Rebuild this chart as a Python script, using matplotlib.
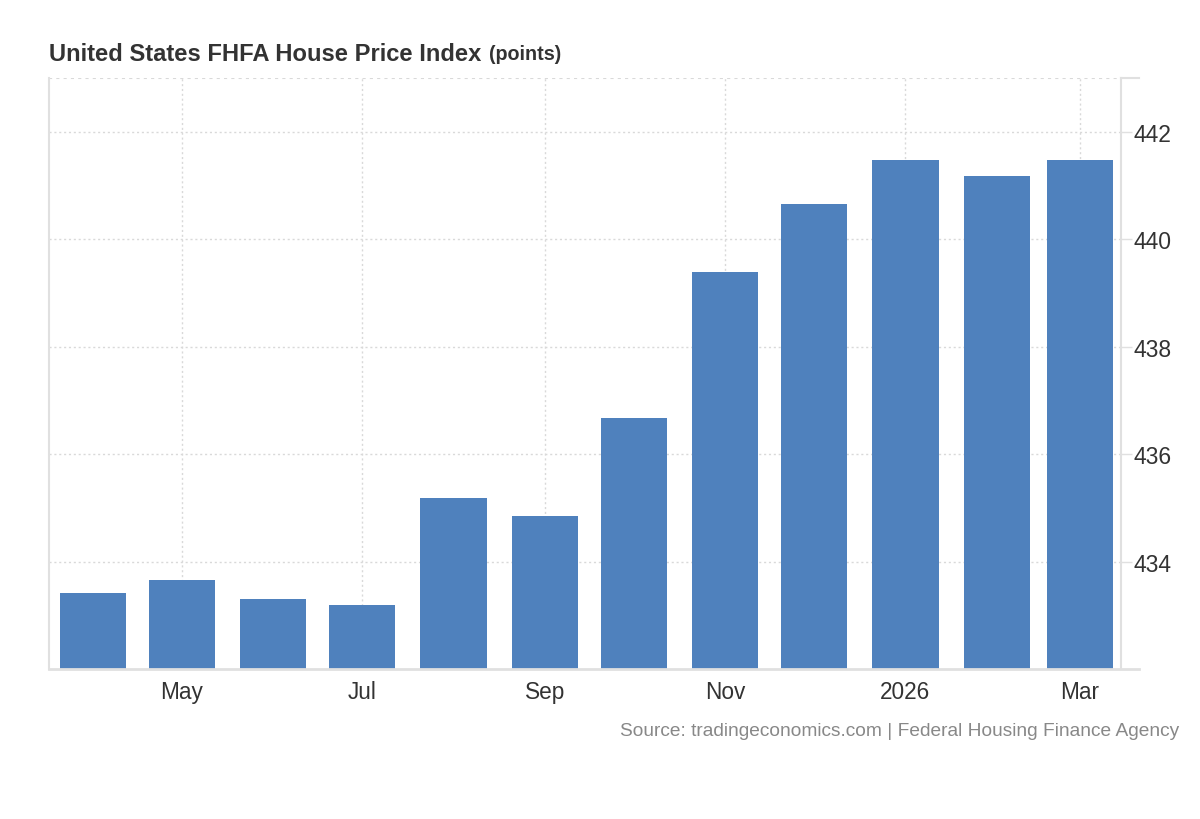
import matplotlib
matplotlib.use("Agg")
import matplotlib.pyplot as plt
import pandas as pd

plt.rcParams["font.family"] = ["Liberation Sans", "DejaVu Sans"]

#monthly FHFA house price index values
months = pd.date_range("2025-04-01", "2026-03-01", freq="MS")
values = [433.42, 433.65, 433.31, 433.20, 435.18, 434.84,
          436.67, 439.39, 440.66, 441.48, 441.18, 441.48]
tick_dates = pd.to_datetime(["2025-05-01", "2025-07-01", "2025-09-01",
                             "2025-11-01", "2026-01-01", "2026-03-01"])
tick_labels = ["May", "Jul", "Sep", "Nov", "2026", "Mar"]
y_ticks = [434, 436, 438, 440, 442]

bar_color = "#4f81bd"
grid_color = "#d9d9d9"
axis_color = "#e0e0e0"

fig = plt.figure(figsize=(12, 8.2), dpi=100)
ax = fig.add_axes([0.0408, 0.1829, 0.8934, 0.7208])

ax.bar(months, values, width=22.4, color=bar_color, zorder=2)

ax.set_xlim(pd.Timestamp("2025-03-17"), pd.Timestamp("2026-03-15"))
ax.set_ylim(432, 443)

ax.set_xticks(tick_dates)
ax.set_xticklabels(tick_labels)
ax.set_yticks(y_ticks)
ax.yaxis.tick_right()

ax.tick_params(axis="x", length=0, pad=8, labelsize=16.3, labelcolor="#333333")
ax.tick_params(axis="y", length=8, width=1, color=axis_color, pad=1,
               labelsize=16.5, labelcolor="#333333")

ax.grid(True, color=grid_color, linestyle=(0, (1.5, 2)), linewidth=1, zorder=0)
#dotted line along the top of the plot
ax.axhline(443, color=grid_color, linestyle=(0, (1.5, 2)), linewidth=1.5, zorder=0)

for side in ["top", "right"]:
    ax.spines[side].set_visible(False)
ax.spines["left"].set_color(axis_color)
ax.spines["left"].set_linewidth(1.5)
ax.spines["bottom"].set_visible(False)

#right axis line, bottom line and top tick extending past the plot
ax.plot([1.0, 1.0], [0, 1], transform=ax.transAxes, color=axis_color,
        linewidth=1.5, clip_on=False, zorder=3)
ax.plot([0, 1.017], [0, 0], transform=ax.transAxes, color=axis_color,
        linewidth=2, clip_on=False, zorder=3)
ax.plot([1.0, 1.017], [1, 1], transform=ax.transAxes, color=axis_color,
        linewidth=1.5, clip_on=False, zorder=3)

#title
t1 = fig.text(0.0408, 0.934, "United States FHFA House Price Index",
              fontsize=17.1, fontweight="bold", color="#333333", va="center")
fig.canvas.draw()
bb = t1.get_window_extent().transformed(fig.transFigure.inverted())
fig.text(bb.x1 + 0.006, 0.933, "(points)", fontsize=14.2, fontweight="bold",
         color="#333333", va="center")

fig.text(0.983, 0.108, "Source: tradingeconomics.com | Federal Housing Finance Agency",
         fontsize=13.8, color="#888888", ha="right", va="center")

fig.savefig("out.png", dpi=100, facecolor="white")
